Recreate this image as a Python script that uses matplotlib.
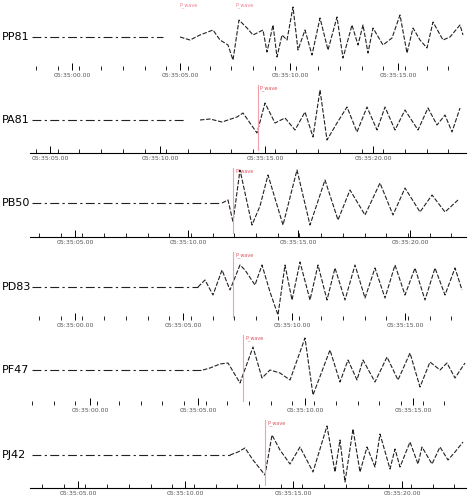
import matplotlib
matplotlib.use("Agg")
import matplotlib.pyplot as plt
import numpy as np

stations = ["PP81", "PA81", "PB50", "PD83", "PF47", "PJ42"]

# time (samples) and amplitude of waveform extrema after noise segment
pp81_t = [180,190,200,213,220,228,233,239,247,253,263,267,273,277,282,287,293,298,305,312,320,328,337,343,352,358,363,368,373,383,392,400,407,413,420,427,433,443,450,460,463]
pp81_a = [0,-3,2,7,-3,-8,-23,17,9,2,7,-15,12,-20,2,-3,30,-13,7,-18,19,-13,20,-21,12,-8,12,-16,9,-8,-1,22,-16,9,-3,-11,15,-3,0,12,2]
pa81_t = [200,210,222,237,243,257,265,275,285,295,305,313,320,327,337,347,357,367,377,385,395,405,418,428,437,445,452,460]
pa81_a = [0,1,-2,3,7,-13,17,-3,2,-10,8,-17,30,-20,-3,13,-12,13,-10,13,-10,10,-10,12,-5,5,-12,12]
pb50_t = [222,228,233,240,252,260,268,283,297,310,325,338,350,365,380,393,405,420,432,445,458]
pb50_a = [0,3,-19,33,-22,-3,28,-22,33,-22,23,-17,13,-12,20,-12,15,-9,8,-9,3]
pd83_t = [198,205,213,222,230,240,245,255,262,270,278,285,292,300,310,318,327,335,345,355,365,375,385,395,405,415,425,435,445,455,462]
pd83_a = [0,7,-8,17,-3,22,17,2,22,-5,-28,22,-13,25,-13,22,-13,19,-13,22,-11,19,-11,22,-8,19,-13,19,-8,19,-3]
pf47_t = [203,210,220,228,240,253,262,270,280,290,305,313,330,340,348,357,363,375,387,398,410,420,430,440,447,455,465]
pf47_a = [0,2,6,7,-13,23,-8,0,-3,-10,32,-25,20,-12,10,-10,10,-12,13,-10,17,-17,8,0,7,-8,7]
pj42_t = [230,238,245,253,265,272,280,290,300,313,327,335,340,345,353,360,367,375,380,390,395,400,410,418,422,432,440,448,455,463]
pj42_a = [0,3,7,-5,-20,20,5,-9,8,-17,29,-17,15,-27,26,-17,8,-12,21,-14,6,-12,13,-9,8,-9,8,-5,3,13]

traces = [(pp81_t, pp81_a), (pa81_t, pa81_a), (pb50_t, pb50_a),
          (pd83_t, pd83_a), (pf47_t, pf47_a), (pj42_t, pj42_a)]
noise_end = [163, 185, 222, 198, 203, 230]
baselines = [37, 120, 203, 287, 370, 455]
axis_ys = [70, 153, 237, 320, 405, 488]
spine_on = [False, True, True, False, False, True]
picks = [None, 258, 233, 233, 243, 265]
major_ticks = [[72, 180, 290, 398], [50, 160, 265, 373], [75, 188, 298, 410],
               [75, 183, 292, 405], [90, 198, 305, 413], [78, 185, 293, 402]]
tick_labels = [["05:35:00.00", "05:35:05.00", "05:35:10.00", "05:35:15.00"],
               ["05:35:05.00", "05:35:10.00", "05:35:15.00", "05:35:20.00"],
               ["05:35:05.00", "05:35:10.00", "05:35:15.00", "05:35:20.00"],
               ["05:35:00.00", "05:35:05.00", "05:35:10.00", "05:35:15.00"],
               ["05:35:00.00", "05:35:05.00", "05:35:10.00", "05:35:15.00"],
               ["05:35:05.00", "05:35:10.00", "05:35:15.00", "05:35:20.00"]]

W, H = 474, 498
fig = plt.figure(figsize=(W/100, H/100), dpi=100)
x0, x1 = 30, 466
for i, name in enumerate(stations):
    b, ay = baselines[i], axis_ys[i]
    top = b - 36
    ax = fig.add_axes([x0/W, 1-ay/H, (x1-x0)/W, (ay-top)/H])
    ax.set_xlim(x0, x1)
    ax.set_ylim(-(ay-b), b-top)
    for s in ["top", "left", "right"]:
        ax.spines[s].set_visible(False)
    ax.spines["bottom"].set_visible(spine_on[i])
    ax.spines["bottom"].set_linewidth(0.8)
    ax.set_yticks([])
    t, a = traces[i]
    ax.plot([x0+2, noise_end[i]], [0, 0], color="#222", lw=0.8, ls=(0, (8, 3, 2, 3)))
    ax.plot(t, a, color="#222", lw=0.8, ls=(0, (4, 1.5)), clip_on=False)
    minor = np.arange(major_ticks[i][0] % 22 + x0, x1, 21.7)
    ax.set_xticks(minor, minor=True)
    ax.set_xticks(major_ticks[i])
    ax.set_xticklabels(tick_labels[i], fontsize=4.5, color="#555")
    ax.tick_params(axis="x", which="major", direction="in", length=5, width=0.7, pad=2)
    ax.tick_params(axis="x", which="minor", direction="in", length=3, width=0.6)
    if picks[i] is not None:
        ax.axvline(picks[i], color="#f4a0a8", lw=0.8, ymin=0.05, ymax=0.98)
        ax.text(picks[i]+2, b-top-1, "P_wave", color="#e05060", fontsize=3.5, va="top")
    fig.text(2/W, 1-b/H, name, fontsize=8, va="center", ha="left")
fig.text(180/W, 1-6/H, "P_wave", color="#f08090", fontsize=3.5)
fig.text(235/W, 1-6/H, "P_wave", color="#f08090", fontsize=3.5)
fig.savefig("out.png", dpi=100)
